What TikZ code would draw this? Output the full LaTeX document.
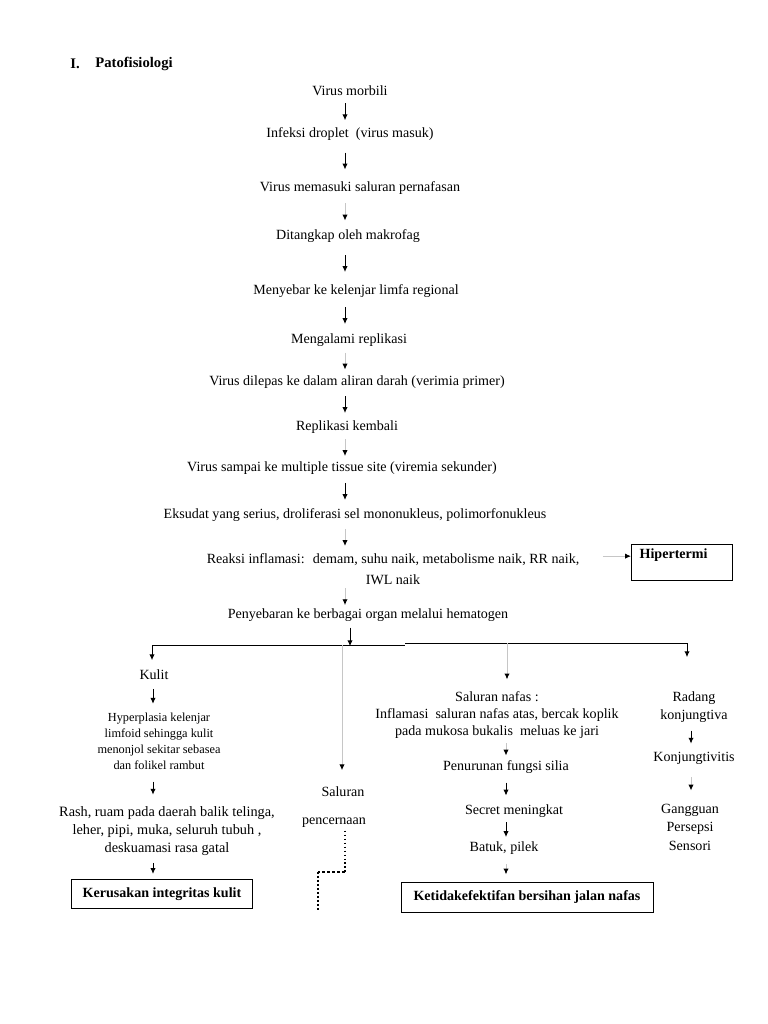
\documentclass[tikz,border=0pt]{standalone}
\usepackage{fontspec}
\setmainfont{Liberation Serif}
\usetikzlibrary{arrows.meta,calc}
\newcommand{\linkDown}[5][8.5]{% half length, style, column, upper node, lower node
  \draw[#2] ($(#4.south -| #3)!.5!(#5.north -| #3) + (0,-#1)$) -- ($(#4.south -| #3)!.5!(#5.north -| #3) + (0,#1)$);
}

\begin{document}
\begin{tikzpicture}[x=0.03cm,y=-0.03cm,line width=0.8pt,
  >={Latex[length=5pt,width=4.5pt]},
  txt/.style={font=\fontsize{12}{14}\selectfont,inner sep=2pt,align=center},
  lowtxt/.style={font=\fontsize{10.5}{13.7}\selectfont,inner sep=2pt,align=center},
  outcome/.style={draw,line width=0.7pt,inner sep=3pt,font=\bfseries\fontsize{12}{14}\selectfont},
  flow/.style={->},
  faint/.style={draw=gray!45,-{Latex[length=5pt,width=4.5pt,color=black]}},
  dotline/.style={line width=1.4pt,dash pattern=on 1.4pt off 2pt},
  dashline/.style={line width=1.2pt,dash pattern=on 2.5pt off 1.8pt}]
\useasboundingbox (0,0) rectangle (768,1024);
% Reference grid (temporary)
%\draw[help lines,step=50] (0,0) grid (768,1024);

% Title
\node[anchor=west,font=\bfseries\fontsize{12.5}{14}\selectfont] (num) at (66,64) {I.};
\node[anchor=west,font=\bfseries\fontsize{12.5}{14}\selectfont] (title) at (91,64) {Patofisiologi};

% Columns
\coordinate (col) at (345,0);
\coordinate (colL) at (153,0);
\coordinate (colN) at (506,0);
\coordinate (colR) at (691,0);

% Main chain
\node[txt] (vm) at (350,91) {Virus morbili};
\node[txt] (id) at (350,134) {Infeksi droplet~ (virus masuk)};
\node[txt] (vs) at (360,188) {Virus memasuki saluran pernafasan};
\node[txt] (dm) at (348,236) {Ditangkap oleh makrofag};
\node[txt] (ml) at (356,291) {Menyebar ke kelenjar limfa regional};
\node[txt] (mr) at (349,340) {Mengalami replikasi};
\node[txt] (vd) at (357,382) {Virus dilepas ke dalam aliran darah (verimia primer)};
\node[txt] (rk) at (347,427) {Replikasi kembali};
\node[txt] (vt) at (342,468) {Virus sampai ke multiple tissue site (viremia sekunder)};
\node[txt] (ek) at (355,515) {Eksudat yang serius, droliferasi sel mononukleus, polimorfonukleus};
\node[txt,font=\fontsize{12}{18}\selectfont] (ri) at (393,569) {Reaksi inflamasi:~ demam, suhu naik, metabolisme naik, RR naik,\\ IWL naik};
\node[txt] (ph) at (368,615) {Penyebaran ke berbagai organ melalui hematogen};

\linkDown{flow}{col}{vm}{id}
\linkDown{flow}{col}{id}{vs}
\linkDown{faint}{col}{vs}{dm}
\linkDown{flow}{col}{dm}{ml}
\linkDown{flow}{col}{ml}{mr}
\linkDown{faint}{col}{mr}{vd}
\linkDown{flow}{col}{vd}{rk}
\linkDown{faint}{col}{rk}{vt}
\linkDown{flow}{col}{vt}{ek}
\linkDown{faint}{col}{ek}{ri}
\linkDown{faint}{col}{ri}{ph}

% Hipertermi
\node[outcome,anchor=north west,text width=72pt,align=left,inner xsep=7pt,inner ysep=4pt,text depth=14pt] (hp) at (631,544) {Hipertermi};
\draw[faint] ([xshift=-24pt]hp.mid west) -- (hp.mid west);

% Branches
\coordinate (busL) at (152,645);
\coordinate (busS) at (405,645);
\coordinate (busT) at (405,643);
\coordinate (busM) at (350,645);
\coordinate (busP) at (342,645);
\coordinate (busN) at (507,643);
\coordinate (busR) at (687,643);
\draw[flow,shorten <=3pt,shorten >=-1pt] (ph.south -| busM) -- (busM);
\draw (busL) -- (busS);
\draw (busT) -- (busR);

% Kulit
\node[txt] (ku) at (154,675) {Kulit};
\node[lowtxt] (hy) at (159,741) {Hyperplasia kelenjar\\ limfoid sehingga kulit\\ menonjol sekitar sebasea\\ dan folikel rambut};
\node[txt,font=\fontsize{12.2}{15}\selectfont] (ra) at (167,831) {Rash, ruam pada daerah balik telinga,\\ leher, pipi, muka, seluruh tubuh ,\\ deskuamasi rasa gatal};
\node[outcome,minimum width=154pt,minimum height=25pt] (kb) at (162,894) {Kerusakan integritas kulit};
\draw[flow,shorten >=6pt] (busL) -- (busL |- ku.north);
\linkDown[7.5]{flow}{colL}{ku}{hy}
\linkDown[6.5]{flow}{colL}{hy}{ra}
\linkDown[5.5]{flow}{colL}{ra}{kb}

% Saluran pencernaan
\node[txt] (s1) at (343,792) {Saluran};
\node[txt] (s2) at (334,823) {pencernaan};
\coordinate (dA) at (345,872);
\coordinate (dB) at (318,872);
\coordinate (dC) at (318,910);
\draw[faint,shorten >=12pt] (busP) -- (busP |- s1.north);
\draw[dotline] (s2.south -| dA) -- (dA);
\draw[dashline] (dA) -- (dB);
\draw[dotline] (dB) -- (dC);

% Saluran nafas
\node[txt,font=\fontsize{12}{14.5}\selectfont] (sn) at (497,715) {Saluran nafas :\\ Inflamasi~ saluran nafas atas, bercak koplik\\ pada mukosa bukalis~ meluas ke jari};
\node[txt] (pf) at (506,767) {Penurunan fungsi silia};
\node[txt] (sm) at (514,811) {Secret meningkat};
\node[txt] (bp) at (504,848) {Batuk, pilek};
\node[outcome,minimum width=215pt,minimum height=25.6pt] (jb) at (527,897) {Ketidakefektifan bersihan jalan nafas};
\draw[faint,shorten >=8pt] (busN) -- (busN |- sn.north);
\linkDown[6]{faint}{colN}{sn}{pf}
\linkDown[6.5]{flow}{colN}{pf}{sm}
\linkDown[7.5]{flow}{colN}{sm}{bp}
\linkDown[5]{faint}{colN}{bp}{jb}

% Mata
\node[txt,font=\fontsize{12}{15.4}\selectfont] (rd) at (694,707) {Radang\\ konjungtiva};
\node[txt] (kj) at (694,758) {Konjungtivitis};
\node[txt,font=\fontsize{12}{15.8}\selectfont] (gp) at (690,827) {Gangguan\\ Persepsi\\ Sensori};
\draw[flow,shorten >=27pt] (busR) -- (busR |- rd.north);
\linkDown[6.5]{flow}{colR}{rd}{kj}
\linkDown[6.5]{faint}{colR}{kj}{gp}
\end{tikzpicture}
\end{document}
